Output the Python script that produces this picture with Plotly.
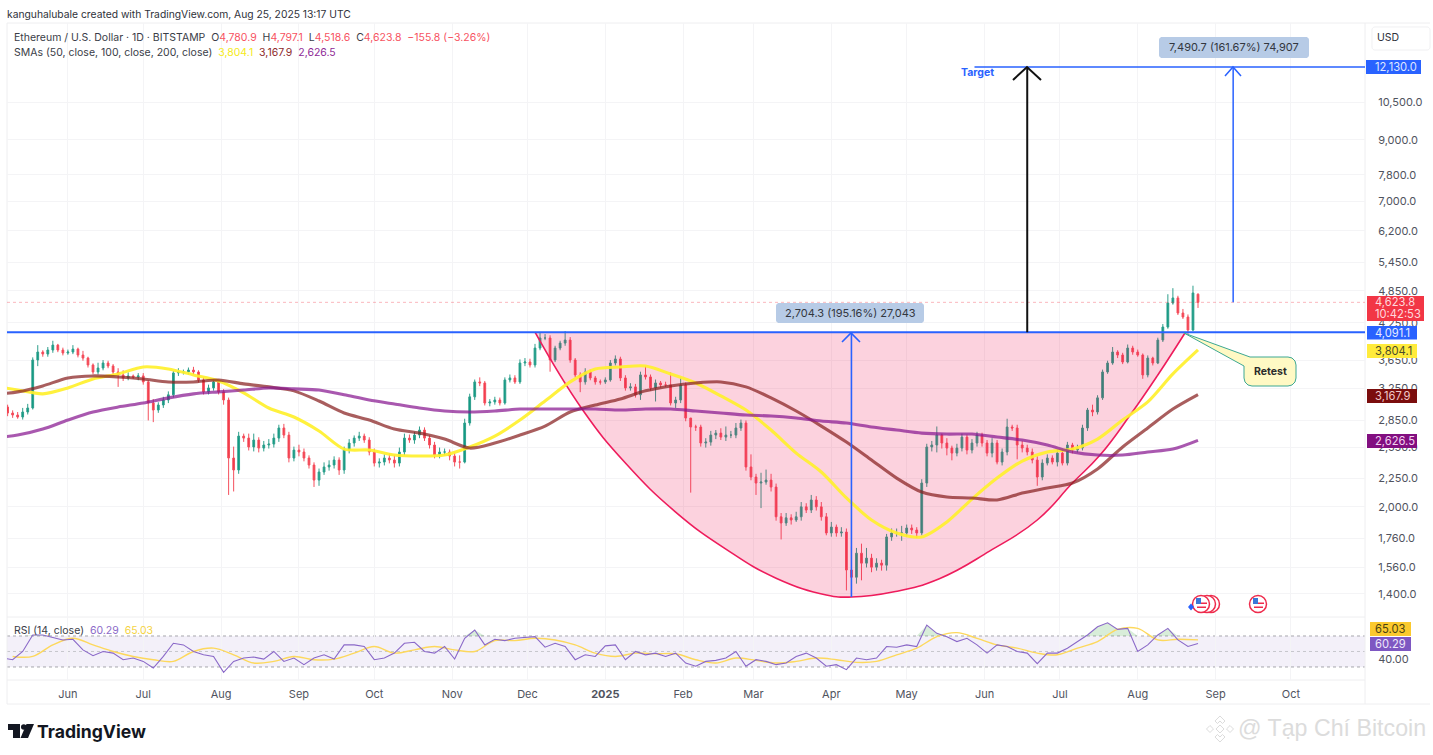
import math
import pandas as pd
import plotly.graph_objects as go

W, H = 1433, 755
LAST_DATE = "2025-08-25"

# two-day candles
closes = [
3011,2938,2914,2890,2950,2999,3651,3772,3741,3803,
3881,3803,3757,3772,3818,3726,3680,3577,3476,3533,
3606,3562,3476,3434,3392,3420,3406,3420,3337,3061,
2974,3036,3099,3165,3462,3476,3476,3504,3476,3364,
3204,3256,3337,3204,3099,2443,2326,2673,2651,2556,
2630,2545,2577,2587,2651,2763,2684,2443,2524,2504,
2443,2374,2232,2307,2355,2374,2423,2326,2524,2598,
2651,2673,2630,2504,2393,2403,2443,2423,2393,2504,
2651,2630,2684,2740,2651,2577,2473,2504,2504,2463,
2403,2403,2820,3139,3337,3323,3061,3074,3099,3061,
3364,3392,3337,3606,3621,3577,3834,3995,3995,3651,
3834,3913,3962,3651,3434,3337,3476,3392,3337,3337,
3364,3606,3666,3392,3256,3270,3165,3434,3406,3256,
3323,3296,3296,3061,3099,3296,2878,2774,2774,2598,
2608,2684,2706,2662,2684,2684,2763,2820,2355,2260,
2205,2214,2232,2169,1920,1872,1912,1895,1920,2000,
1974,2057,2000,1920,1797,1841,1797,1804,1544,1499,
1654,1588,1621,1562,1588,1575,1768,1797,1797,1797,
1834,1819,1797,2205,2556,2577,2684,2598,2545,2493,
2545,2662,2524,2598,2684,2598,2493,2598,2403,2504,
2774,2763,2577,2545,2504,2423,2260,2393,2443,2403,
2493,2393,2577,2524,2545,2763,2974,2950,3126,3476,
3606,3772,3726,3621,3834,3772,3726,3434,3680,3606,
3962,4179,4611,4708,4426,4354,4128,4805,4623.8]
highs = [
3060,3040,2970,2950,3000,3050,3690,3880,3800,3850,
3950,3900,3840,3810,3880,3840,3790,3700,3600,3610,
3650,3640,3590,3530,3500,3470,3440,3460,3460,3360,
3110,3070,3140,3210,3490,3530,3510,3540,3550,3500,
3400,3300,3380,3350,3240,3130,2560,2720,2700,2700,
2700,2660,2620,2640,2700,2800,2810,2720,2560,2580,
2540,2470,2400,2340,2400,2420,2460,2450,2560,2640,
2680,2720,2700,2660,2540,2440,2480,2490,2470,2550,
2700,2690,2720,2780,2770,2680,2610,2550,2540,2530,
2500,2470,2870,3180,3370,3400,3350,3110,3140,3130,
3400,3440,3430,3660,3680,3670,3900,4080,4060,4040,
3870,3950,4110,4010,3680,3470,3530,3510,3420,3370,
3400,3650,3720,3700,3430,3320,3310,3480,3560,3440,
3370,3350,3340,3470,3140,3400,3330,2830,2800,2800,
2650,2730,2740,2760,2780,2730,2820,2860,2850,2480,
2290,2300,2330,2290,2200,1950,1950,1940,1960,2040,
2030,2100,2090,2040,1950,1880,1860,1840,1830,1700,
1690,1720,1690,1650,1620,1610,1790,1830,1830,1850,
1860,1860,1840,2240,2590,2620,2780,2700,2650,2570,
2590,2700,2690,2640,2720,2710,2630,2650,2630,2540,
2870,2800,2800,2620,2580,2540,2460,2430,2480,2470,
2530,2520,2610,2600,2580,2800,3000,3040,3160,3510,
3640,3850,3800,3760,3890,3870,3810,3750,3720,3700,
4000,4230,4780,4900,4750,4500,4400,4950,4797.1]
lows = [
2970,2900,2880,2870,2860,2920,2980,3560,3700,3700,
3760,3770,3720,3730,3740,3690,3640,3540,3440,3440,
3500,3530,3440,3270,3350,3360,3380,3360,3300,2850,
2830,2940,3000,3060,3130,3420,3440,3440,3440,3330,
3170,3170,3220,3170,3040,2100,2130,2290,2610,2520,
2510,2500,2510,2540,2550,2610,2650,2400,2410,2460,
2410,2340,2170,2180,2280,2320,2340,2280,2290,2490,
2560,2620,2600,2470,2360,2350,2370,2390,2350,2360,
2470,2600,2590,2650,2620,2540,2440,2440,2470,2420,
2360,2340,2390,2790,3100,3280,3030,3020,3040,3030,
3040,3330,3310,3310,3560,3540,3540,3800,3960,3480,
3620,3800,3870,3610,3400,3200,3300,3360,3300,3300,
3310,3340,3570,3350,3220,3220,3130,3100,3370,3220,
3080,3260,3270,3030,3000,3060,2840,2120,2730,2560,
2550,2570,2640,2630,2620,2650,2650,2730,2320,2230,
2100,1990,2190,2130,1890,1750,1850,1860,1880,1890,
1950,1950,1970,1890,1780,1770,1770,1770,1420,1390,
1460,1480,1560,1530,1540,1540,1540,1740,1770,1740,
1770,1790,1760,1780,2170,2510,2500,2540,2470,2420,
2460,2510,2480,2490,2560,2560,2460,2450,2380,2370,
2470,2730,2430,2500,2470,2390,2180,2230,2370,2380,
2360,2370,2370,2490,2500,2520,2730,2900,2920,3100,
3450,3580,3680,3590,3600,3730,3700,3380,3400,3570,
3590,3930,4150,4580,4390,4320,4060,4110,4518.6]

# moving averages, one reading every ten days
sma50 = [3283,3228,3178,3256,3378,3448,3548,3519,3434,3350,3191,2999,2890,2729,2534,2524,2473,2463,2473,2556,
2673,2855,3086,3337,3519,3548,3562,3448,3323,3152,2974,2740,2493,2307,2074,1895,1797,1768,1880,2065,
2250,2413,2504,2534,2640,2855,3074,3448,3804.1]
sma100 = [3165,3204,3283,3392,3420,3406,3378,3337,3337,3364,3310,3270,3217,3086,2938,2855,2751,2706,2640,2545,
2598,2684,2785,2950,3036,3112,3217,3283,3323,3337,3270,3126,2962,2785,2608,2423,2250,2125,2082,2074,
2057,2116,2160,2205,2336,2556,2763,2986,3167.9]
sma200 = [2651,2684,2751,2855,2950,3011,3061,3126,3178,3204,3228,3256,3243,3228,3165,3099,3049,2999,2962,2950,
2962,2986,2986,2986,2986,2974,2986,2986,2962,2938,2914,2902,2878,2843,2820,2774,2740,2706,2695,2695,
2662,2630,2577,2504,2473,2473,2504,2534,2626.5]

# RSI one reading every four days, its average every eight
rsi = [41.5,39.4,50,71.3,71.3,68.3,64.9,65.7,52.1,44.5,
50,47.9,39.4,41.5,37.2,28.7,43.6,60.6,58.5,50,
45.7,43.6,23.2,37.2,41.5,42.8,40.2,50,37.2,41.5,
33,41.5,45.7,40.2,58.5,58.5,56.4,39.4,41.5,47.9,
60.6,61.9,50,47.9,56.4,40.2,67,77.7,58.5,65.7,
64,67,68.3,69.1,55.5,60.6,56.4,39.4,45.7,43.6,
57.2,58.5,39.4,50,45.7,47.9,43.6,47.9,35.1,30.9,
37.2,38.5,41.5,50,30.9,39.4,37.2,33,35.1,43.6,
47.9,41.5,30.9,33,26.6,41.5,39.4,41.5,56.4,55.5,
58.5,56.4,84,73.4,69.1,62.8,67,58.5,47.9,58.5,
56.4,50,47.9,34.3,47.9,47.9,54.3,62.8,71.3,81.9,
87,78.5,79.8,50,58.5,71.3,79.8,64.9,56.4,60.29]
rsi_ma = [43.6,43.6,58.5,67,58.5,50,43.6,39.4,37.2,50,54.3,45.7,35.1,37.2,43.6,39.4,40.2,47.9,56.4,47.9,
52.1,56.4,52.1,50,64,64,67,64.9,58.5,47.9,43.6,47.9,47,47,39.4,35.1,
41.5,38.5,35.1,37.2,41.5,39.4,36,37.2,45.7,54.3,69.1,74.3,67,58.5,54.3,47.9,45.7,54.3,62.8,78.5,79.8,64.9,65.7,65.03]

# rounded-bottom drawing
cup_dates = ["2024-12-04","2024-12-23","2025-01-09","2025-01-29","2025-02-18","2025-03-10","2025-03-30","2025-04-09",
             "2025-04-26","2025-05-14","2025-06-03","2025-06-22","2025-07-06","2025-07-17","2025-07-29","2025-08-09","2025-08-20"]
cup_prices = [4091.1,2974,2393,1958,1682,1493,1394,1382,1412,1490,1668,1895,2205,2473,2914,3434,4091.1]

price_ticks = [10500,9000,7800,7000,6200,5450,4850,4250,3650,3250,2850,2550,2250,2000,1760,1560,1400]
month_ticks = ["2024-06-01","2024-07-01","2024-08-01","2024-09-01","2024-10-01","2024-11-01","2024-12-01","2025-01-01",
               "2025-02-01","2025-03-01","2025-04-01","2025-05-01","2025-06-01","2025-07-01","2025-08-01","2025-09-01","2025-10-01"]
month_labels = ["Jun","Jul","Aug","Sep","Oct","Nov","Dec","<b>2025</b>","Feb","Mar","Apr","May","Jun","Jul","Aug","Sep","Oct"]

resistance, target, last_close = 4091.1, 12130, 4623.8
FONT = "Inter, Roboto, sans-serif"
TXT = "#3a3d47"
BLUE = "#2962ff"

candle_dates = pd.date_range(end=LAST_DATE, periods=len(closes), freq="2D")
sma_dates = pd.date_range(end=LAST_DATE, periods=len(sma50), freq="10D")
rsi_dates = pd.date_range(end=LAST_DATE, periods=len(rsi), freq="4D")
rsi_ma_dates = pd.date_range(end=LAST_DATE, periods=len(rsi_ma), freq="8D")
opens = [closes[0]] + closes[:-1]
opens[-1] = 4780.9

def px(x): return x / W
def py(y): return 1 - y / H

fig = go.Figure()
fig.add_trace(go.Candlestick(x=candle_dates, open=opens, high=highs, low=lows, close=closes,
    increasing=dict(line=dict(color="#2f9f8c", width=1), fillcolor="#089981"),
    decreasing=dict(line=dict(color="#f4505e", width=1), fillcolor="#f23645"),
    whiskerwidth=0, hoverinfo="skip", xaxis="x", yaxis="y"))

fig.add_trace(go.Scatter(x=cup_dates, y=cup_prices, mode="lines", fill="toself", fillcolor="rgba(240,30,90,0.2)",
                         line=dict(color="#ee1c5c", width=1.6, shape="spline", smoothing=1.3),
                         hoverinfo="skip", xaxis="x", yaxis="y"))

for vals, col in [(sma50, "rgba(255,240,45,0.92)"), (sma100, "rgba(136,32,32,0.72)"), (sma200, "rgba(136,24,144,0.72)")]:
    fig.add_trace(go.Scatter(x=sma_dates, y=vals, mode="lines", line=dict(color=col, width=3.1, shape="spline", smoothing=0.8),
                             hoverinfo="skip", xaxis="x", yaxis="y"))

def hline(x, y, color, width, dash="solid"):
    fig.add_trace(go.Scatter(x=x, y=y, mode="lines", line=dict(color=color, width=width, dash=dash),
                             hoverinfo="skip", xaxis="x", yaxis="y"))

X0, X1 = "2024-05-07 18:00", "2025-10-30 12:00"
hline([X0, X1], [last_close, last_close], "rgba(242,54,69,0.45)", 0.8, "dot")
hline([X0, X1], [resistance, resistance], BLUE, 2)
hline(["2025-05-28", X1], [target, target], BLUE, 1.6)
hline(["2025-06-18", "2025-06-18"], [resistance, target], "#111111", 2)
hline(["2025-09-08", "2025-09-08"], [last_close, target], BLUE, 1.5)
hline(["2025-04-09", "2025-04-09"], [1382, resistance], BLUE, 1.6)

# RSI pane
fig.add_trace(go.Scatter(x=rsi_dates, y=[70]*len(rsi), mode="lines", line=dict(width=0), hoverinfo="skip", xaxis="x2", yaxis="y2"))
fig.add_trace(go.Scatter(x=rsi_dates, y=[max(v, 70) for v in rsi], mode="lines", line=dict(width=0), fill="tonexty",
                         fillcolor="rgba(76,175,80,0.22)", hoverinfo="skip", xaxis="x2", yaxis="y2"))
fig.add_trace(go.Scatter(x=rsi_ma_dates, y=rsi_ma, mode="lines", line=dict(color="#fdd85c", width=1.4, shape="spline"),
                         hoverinfo="skip", xaxis="x2", yaxis="y2"))
fig.add_trace(go.Scatter(x=rsi_dates, y=rsi, mode="lines", line=dict(color="#8a68c8", width=1.1),
                         hoverinfo="skip", xaxis="x2", yaxis="y2"))

shapes, ann = [], []

def path(points, close=False, **kw):
    d = "M" + " L".join(f"{px(a):.5f},{py(b):.5f}" for a, b in points) + (" Z" if close else "")
    shapes.append(dict(type="path", xref="paper", yref="paper", path=d, **kw))

def round_rect(x0, y0, x1, y1, r, fill, line="rgba(0,0,0,0)", lw=0):
    pts = []
    for cx, cy, a0 in [(x1-r, y0+r, -90), (x1-r, y1-r, 0), (x0+r, y1-r, 90), (x0+r, y0+r, 180)]:
        for k in range(7):
            t = math.radians(a0 + k*15)
            pts.append((cx + r*math.cos(t), cy + r*math.sin(t)))
    path(pts, close=True, fillcolor=fill, line=dict(color=line, width=lw))

def text(x, y, s, size=11, color=TXT, anchor="left", font=FONT):
    nudge = -2 if anchor == "left" else 0
    ann.append(dict(x=px(x + nudge), y=py(y), xref="paper", yref="paper", text=s, showarrow=False, xanchor=anchor, yanchor="middle",
                    font=dict(size=size, color=color, family=font), align=anchor))

def pill(y0, y1, s, bg, color, x0=1366, x1=1421):
    shapes.append(dict(type="rect", xref="paper", yref="paper", x0=px(x0), x1=px(x1), y0=py(y0), y1=py(y1),
                       fillcolor=bg, line=dict(width=0)))
    text(1375, (y0+y1)/2, s, 11.2, color)

# RSI band and levels
shapes.append(dict(type="rect", xref="paper", yref="y2", x0=px(7), x1=px(1365), y0=30, y1=70, fillcolor="rgba(126,87,194,0.09)",
                   line=dict(width=0), layer="below"))
for lv, c in ((70, "#a7a7ad"), (50, "#c6c6cc"), (30, "#a7a7ad")):
    shapes.append(dict(type="line", xref="paper", yref="y2", x0=px(7), x1=px(1365), y0=lv, y1=lv,
                       line=dict(color=c, width=1, dash="dot"), layer="below"))

# frame lines
for y in (23, 617, 680, 704):
    shapes.append(dict(type="line", xref="paper", yref="paper", x0=px(7), x1=px(1430 if y in (23, 704) else 1365), y0=py(y), y1=py(y),
                       line=dict(color="#eeeef0", width=1), layer="below"))
shapes.append(dict(type="line", xref="paper", yref="paper", x0=px(7), x1=px(7), y0=py(23), y1=py(704),
                   line=dict(color="#eeeef0", width=1), layer="below"))
shapes.append(dict(type="line", xref="paper", yref="paper", x0=px(1365), x1=px(1365), y0=py(23), y1=py(704),
                   line=dict(color="#eeeef0", width=1), layer="below"))

# arrow heads
path([(1013, 80), (1027, 67), (1041, 80)], line=dict(color="#111111", width=2))
path([(1225, 76), (1233, 67), (1241, 76)], line=dict(color=BLUE, width=1.5))
path([(842, 342), (851, 333), (860, 342)], line=dict(color=BLUE, width=1.6))

# measure labels
round_rect(776, 303, 924, 323, 3, "#b7cbe6")
text(850, 313, "2,704.3 (195.16%) 27,043", 11, "#33373f", "center")
round_rect(1159, 37, 1309, 58, 3, "#b7cbe6")
text(1234, 47.5, "7,490.7 (161.67%) 74,907", 11, "#33373f", "center")
text(977, 72, "<b>Target</b>", 10.5, BLUE, "center")

# Retest callout
box = [(1184, 333), (1250, 357), (1288, 357), (1292, 358), (1295, 361), (1296, 365), (1296, 378), (1295, 382), (1292, 385), (1288, 386),
       (1252, 386), (1248, 385), (1245, 382), (1244, 378), (1244, 366)]
path(box, close=True, fillcolor="#fff9c4", line=dict(color="#3da893", width=1))
text(1270, 371, "<b>Retest</b>", 10.5, "#2b2b2b", "center")

# header
text(7, 14, "kanguhalubale created with TradingView.com, Aug 25, 2025 13:17 UTC", 10.3, "#2f323a")
RED = "#f7525f"
text(14, 37, "Ethereum / U.S. Dollar · 1D · BITSTAMP  O"
     + f"<span style='color:{RED}'>4,780.9</span>  H<span style='color:{RED}'>4,797.1</span>  L<span style='color:{RED}'>4,518.6</span>"
     + f"  C<span style='color:{RED}'>4,623.8</span>  <span style='color:{RED}'>−155.8 (−3.26%)</span>", 10.5)
text(14, 52, "SMAs (50, close, 100, close, 200, close)  <span style='color:#f5ea20'>3,804.1</span>  "
     "<span style='color:#8e2a2a'>3,167.9</span>  <span style='color:#8e2a96'>2,626.5</span>", 10.5)
text(14, 630, "RSI (14, close)  <span style='color:#8a68c8'>60.29</span>  <span style='color:#f5d33f'>65.03</span>", 10.5)

# currency box and price pills
round_rect(1372, 27, 1430, 50, 3, "#ffffff", "#f0f0f2", 1)
text(1377, 38, "USD", 10.5, "#2f323a")
pill(60, 74, "12,130.0", BLUE, "#dfe7ff")
shapes.append(dict(type="rect", xref="paper", yref="paper", x0=px(1367), x1=px(1424), y0=py(296), y1=py(321), fillcolor="#f23645", line=dict(width=0)))
text(1375, 302.5, "4,623.8", 11.2, "#ffd9dd")
text(1375, 314, "10:42:53", 11.2, "#ffd9dd")
pill(326, 339.5, "4,091.1", BLUE, "#e6ecff", 1367, 1417)
pill(344, 358, "3,804.1", "#ffeb3b", "#4a4a2a", 1367, 1417)
pill(389, 403, "3,167.9", "#7b0d0d", "#f0c9c9", 1367, 1417)
pill(434, 448, "2,626.5", "#820f80", "#f3d3f1", 1367, 1417)
pill(622, 636, "65.03", "#fbc92d", "#4c4210", 1370, 1411)
pill(637, 651, "60.29", "#7e57c2", "#efe8fb", 1370, 1411)

# event flags
for cx in (1211, 1207, 1201, 1258):
    shapes.append(dict(type="circle", xref="paper", yref="paper", x0=px(cx-8.5), x1=px(cx+8.5), y0=py(595.5), y1=py(612.5),
                       fillcolor="#ffffff", line=dict(color="#ee2b4c", width=1.5)))
for cx in (1201, 1258):
    shapes.append(dict(type="rect", xref="paper", yref="paper", x0=px(cx-5), x1=px(cx+6), y0=py(602.5), y1=py(604), fillcolor="#ee2b4c", line=dict(width=0)))
    shapes.append(dict(type="rect", xref="paper", yref="paper", x0=px(cx-4), x1=px(cx+5), y0=py(606.5), y1=py(608), fillcolor="#ee2b4c", line=dict(width=0)))
    shapes.append(dict(type="rect", xref="paper", yref="paper", x0=px(cx-5), x1=px(cx), y0=py(598), y1=py(604), fillcolor="#3b78d8", line=dict(width=0)))
path([(1191, 603.5), (1194, 607), (1191, 610.5), (1188, 607)], close=True, fillcolor=BLUE, line=dict(width=0))

# TradingView logo
LOGO = "#131722"
path([(8, 724), (20, 724), (20, 738), (13, 738), (13, 730), (8, 730)], close=True, fillcolor=LOGO, line=dict(width=0))
shapes.append(dict(type="circle", xref="paper", yref="paper", x0=px(21), x1=px(26.5), y0=py(724.2), y1=py(729.7), fillcolor=LOGO, line=dict(width=0)))
path([(34, 724), (28, 738), (20.5, 738), (26.5, 724)], close=True, fillcolor=LOGO, line=dict(width=0))
text(37, 731, "<b>TradingView</b>", 17.6, LOGO)

# watermark
WM = "#dcdcdc"
path([(1220, 716), (1225, 721), (1222.5, 723.5), (1220, 721), (1217.5, 723.5), (1215, 721)], close=True, line=dict(color=WM, width=1))
path([(1220, 742), (1225, 737), (1222.5, 734.5), (1220, 737), (1217.5, 734.5), (1215, 737)], close=True, line=dict(color=WM, width=1))
path([(1220, 725), (1224, 729), (1220, 733), (1216, 729)], close=True, line=dict(color=WM, width=1))
path([(1210, 725.5), (1213.5, 729), (1210, 732.5), (1206.5, 729)], close=True, line=dict(color=WM, width=1))
path([(1230, 725.5), (1233.5, 729), (1230, 732.5), (1226.5, 729)], close=True, line=dict(color=WM, width=1))
text(1238, 728, "@ Tạp Chí Bitcoin", 23.2, WM, font="Liberation Sans, sans-serif")

GRID = "#f4f4f6"
TICK = dict(family=FONT, size=11, color="#50535e")
fig.update_layout(
    width=W, height=H, autosize=False, margin=dict(l=0, r=0, t=0, b=0),
    paper_bgcolor="white", plot_bgcolor="white", showlegend=False, boxgap=0.5,
    xaxis=dict(domain=[px(7), px(1365)], range=[X0, X1], type="date", anchor="y", rangeslider=dict(visible=False),
               tickvals=month_ticks, showticklabels=False, showgrid=True, gridcolor=GRID, zeroline=False, ticks=""),
    yaxis=dict(domain=[py(617), py(23)], type="log", range=[math.log10(1273.5), math.log10(14526)], anchor="x", side="right",
               tickvals=price_ticks, ticktext=[f"{v:,.1f}" for v in price_ticks], tickfont=TICK, showgrid=True, gridcolor=GRID,
               ticks="outside", ticklen=10, tickcolor="rgba(0,0,0,0)", zeroline=False),
    xaxis2=dict(domain=[px(7), px(1365)], matches="x", type="date", anchor="y2", tickvals=month_ticks, ticktext=month_labels,
                tickmode="array", tickfont=TICK, showgrid=True, gridcolor=GRID, ticks="outside", ticklen=4, tickcolor="rgba(0,0,0,0)", zeroline=False),
    yaxis2=dict(domain=[py(680), py(617)], range=[13.2, 94.5], anchor="x2", side="right", tickvals=[40], ticktext=["40.00"],
                tickfont=TICK, showgrid=False, zeroline=False, ticks="outside", ticklen=10, tickcolor="rgba(0,0,0,0)"),
    shapes=shapes, annotations=ann,
)

fig.write_html("out.html", config={"displayModeBar": False},
               post_script="document.body.style.margin='0';document.body.style.overflow='hidden';")
